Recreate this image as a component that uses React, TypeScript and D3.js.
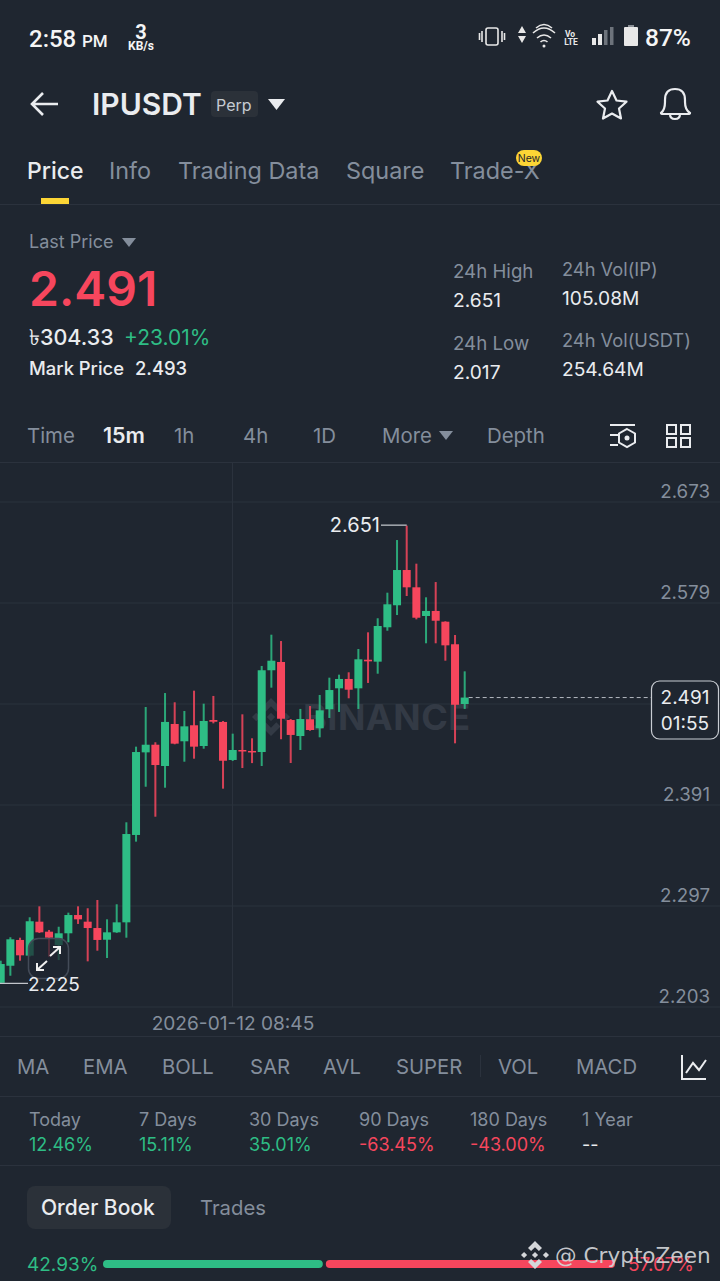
import React from 'react';
import * as d3 from 'd3';

// 15m candles
const opens = [2.2255,2.2414,2.2654,2.2508,2.2824,2.2731,2.2607,2.2716,2.2886,2.2824,2.2765,2.2656,2.2725,2.2818,2.3631,2.44,2.4471,2.4273,2.4664,2.4503,2.4652,2.4459,2.4701,2.4683,2.4329,2.4422,2.4413,2.4403,2.5164,2.5241,2.4701,2.4552,2.4708,2.4624,2.4801,2.4996,2.5083,2.4996,2.5262,2.5244,2.5564,2.5769,2.6097,2.5936,2.5669,2.5716,2.5616,2.5406,2.485];
const closes = [2.243,2.266,2.2511,2.2828,2.2725,2.2675,2.2716,2.2886,2.2846,2.2765,2.2654,2.2725,2.2818,2.364,2.4403,2.4471,2.4282,2.4683,2.4481,2.4642,2.4453,2.4692,2.4685,2.4322,2.4422,2.4408,2.4399,2.5164,2.5253,2.4713,2.4562,2.471,2.4608,2.4791,2.498,2.5083,2.4983,2.5266,2.5247,2.5576,2.5778,2.6097,2.5936,2.5653,2.5716,2.5625,2.5396,2.4843,2.491];
const highs = [2.2461,2.2679,2.2675,2.2865,2.2967,2.2747,2.2777,2.2908,2.2967,2.2949,2.3026,2.2846,2.2986,2.3749,2.4453,2.4822,2.4494,2.4952,2.4866,2.4785,2.4974,2.4853,2.4925,2.4692,2.4574,2.4754,2.4531,2.5204,2.5495,2.5436,2.471,2.4804,2.4831,2.4934,2.5095,2.5123,2.5145,2.5362,2.5517,2.5648,2.5886,2.6376,2.651,2.6156,2.5843,2.5985,2.562,2.5492,2.5154];
const lows = [2.225,2.2321,2.2461,2.25,2.2719,2.2498,2.2467,2.2632,2.2803,2.2455,2.2554,2.2486,2.272,2.2675,2.3569,2.408,2.3801,2.4071,2.4475,2.4313,2.4341,2.4434,2.467,2.4062,2.432,2.4254,2.43,2.4273,2.5002,2.4522,2.4301,2.4422,2.4601,2.454,2.472,2.4776,2.4903,2.4804,2.5046,2.5132,2.5532,2.5678,2.5855,2.5638,2.5415,2.5415,2.5253,2.4484,2.4804];

const priceTicks = [2.673, 2.579, 2.485, 2.391, 2.297, 2.203];
const tabs = [['Price', 27], ['Info', 109], ['Trading Data', 178], ['Square', 346], ['Trade-X', 450]] as const;
const intervals = [['Time', 27], ['15m', 103], ['1h', 174], ['4h', 243], ['1D', 313], ['More', 382], ['Depth', 487]] as const;
const indicators = [['MA', 17], ['EMA', 83], ['BOLL', 162], ['SAR', 250], ['AVL', 323], ['SUPER', 396], ['VOL', 498], ['MACD', 576]] as const;
const periods = [['Today', '12.46%', 29], ['7 Days', '15.11%', 139], ['30 Days', '35.01%', 249], ['90 Days', '-63.45%', 359], ['180 Days', '-43.00%', 470], ['1 Year', '--', 582]] as const;
const buyShare = 42.93;
const sellShare = 57.07;

const BG = '#1f2630';
const GRID = '#2b323d';
const GREEN = '#2ebd85';
const RED = '#f6465d';
const TEXT = '#eaecef';
const MUTED = '#848e9c';
const FONT = 'Inter, "Noto Sans", sans-serif';

const y = d3.scaleLinear().domain([2.673, 2.203]).range([502, 1007]);
const x = d3.scaleLinear().domain([0, 48]).range([0.7, 464.7]);
const bar = d3.scaleLinear().domain([0, buyShare + sellShare]).range([103, 615]);

const T = ({ x, y, s = 18, c = TEXT, w = 400, a = 'start', f = FONT, children }: any) => (
  <text x={x} y={y} fontSize={s} fill={c} fontWeight={w} textAnchor={a} fontFamily={f}>{children}</text>
);

const Diamond = ({ cx, cy, r, fill }: any) => (
  <g fill={fill} transform={`translate(${cx},${cy})`}>
    <path d={`M0 ${-r}L${r * 0.5} ${-r * 0.5}L${r * 0.28} ${-r * 0.28}L0 ${-r * 0.56}L${-r * 0.28} ${-r * 0.28}L${-r * 0.5} ${-r * 0.5}Z`} />
    <path d={`M0 ${r}L${r * 0.5} ${r * 0.5}L${r * 0.28} ${r * 0.28}L0 ${r * 0.56}L${-r * 0.28} ${r * 0.28}L${-r * 0.5} ${r * 0.5}Z`} />
    <path d={`M0 ${-r * 0.22}L${r * 0.22} 0L0 ${r * 0.22}L${-r * 0.22} 0Z`} />
    <path d={`M${-r} 0L${-r * 0.78} ${-r * 0.22}L${-r * 0.56} 0L${-r * 0.78} ${r * 0.22}Z`} />
    <path d={`M${r} 0L${r * 0.78} ${-r * 0.22}L${r * 0.56} 0L${r * 0.78} ${r * 0.22}Z`} />
  </g>
);

export default function App() {
  const ROBOTO = 'Roboto, sans-serif';
  return (
    <>
      <style>{'body{margin:0;background:' + BG + '}'}</style>
      <svg width={720} height={1281} style={{ display: 'block' }}>
        <rect width={720} height={1281} fill={BG} />

        {/* status bar */}
        <T x={29} y={47} s={24} w={500} f={ROBOTO} c="#f5f5f5">2:58</T>
        <T x={82} y={47} s={17} w={500} f={ROBOTO} c="#f5f5f5">PM</T>
        <T x={141} y={39} s={20} w={700} a="middle" f={ROBOTO} c="#f5f5f5">3</T>
        <T x={141} y={50} s={12} w={700} a="middle" f={ROBOTO} c="#f5f5f5">KB/s</T>
        <g fill="none" stroke="#e8e8e8" strokeWidth={1.6}>
          <rect x={486} y={28} width={12} height={17} rx={2} />
          <path d="M482 31v11M502 31v11M479.5 33v7M504.5 33v7" />
          <path d="M533 41q11 -10 22 0M536 36q8 -7 16 0" transform="translate(0,-8)" />
          <path d="M537 38q7 -6 14 0M540.500 42q3.500 -3 7 0" />
        </g>
        <circle cx={544} cy={46} r={1.5} fill="#e8e8e8" />
        <path d="M522 26l4 7h-8ZM522 43l4 -7h-8Z" fill="#e8e8e8" />
        <T x={570} y={37} s={8.5} w={700} a="middle" f={ROBOTO} c="#e8e8e8">Vo</T>
        <T x={571} y={45} s={8.5} w={700} a="middle" f={ROBOTO} c="#e8e8e8">LTE</T>
        <g fill="#e8e8e8">
          <rect x={592} y={38} width={4} height={7} />
          <rect x={598} y={34} width={4} height={11} />
          <rect x={604} y={30} width={3.500} height={15} fill="#6d737b" />
          <rect x={610} y={27} width={3.500} height={18} fill="#6d737b" />
          <rect x={624} y={27} width={14} height={19} rx={1} />
          <rect x={628} y={25} width={6} height={2} fill="#8a8f96" />
        </g>
        <T x={645} y={46} s={24.500} w={500} f={ROBOTO} c="#f5f5f5">87%</T>

        {/* title row */}
        <path d="M58 104H33M43 93L32 104L43 115" fill="none" stroke={TEXT} strokeWidth={2.6} />
        <T x={92} y={115} s={30} w={600} c={TEXT}>IPUSDT</T>
        <rect x={211} y={91} width={47} height={26} rx={4} fill="#2b3139" />
        <T x={216} y={111} s={16} c="#c6cbd2">Perp</T>
        <path d="M268 99H285L276.500 110Z" fill={TEXT} />
        <path d="M612 91L616.500 100.500L626.500 101.700L619 108.500L621 118.500L612 113.500L603 118.500L605 108.500L597.500 101.700L607.500 100.500Z" fill="none" stroke={TEXT} strokeWidth={2.2} strokeLinejoin="round" />
        <path d="M661 113Q665 110 665 102V100Q665 89 675 89Q685 89 685 100V102Q685 110 690 113Q690 114 688 114H663Q661 114 661 113ZM670 114Q670 119 675 119Q680 119 680 114" fill="none" stroke={TEXT} strokeWidth={2.2} />

        {/* tabs */}
        {tabs.map(([label, tx], i) => (
          <T key={label} x={tx} y={179} s={i === 0 ? 23 : 23.400} w={i === 0 ? 500 : 400} c={i === 0 ? TEXT : MUTED}>{label}</T>
        ))}
        <rect x={516} y={150} width={26} height={16} rx={8} fill="#fcd535" />
        <T x={529} y={162} s={10.500} a="middle" c="#1e2329">New</T>
        <rect x={41} y={198} width={28} height={6} fill="#fcd535" />
        <line x1={0} x2={720} y1={204.500} y2={204.500} stroke={GRID} />

        {/* price summary */}
        <T x={29} y={248} s={18} c={MUTED}>Last Price</T>
        <path d="M122 238H136L129 247Z" fill={MUTED} />
        <T x={29} y={306} s={48} w={600} c={RED}>2.491</T>
        <T x={29} y={345} s={21.500} w={500}>৳304.33</T>
        <T x={124} y={345} s={21} c={GREEN}>+23.01%</T>
        <T x={29} y={375} s={18.400} w={500}>Mark Price</T>
        <T x={135} y={375} s={18.400} w={500}>2.493</T>
        <T x={453} y={278} s={18.700} c={MUTED}>24h High</T>
        <T x={453} y={307} s={19.200}>2.651</T>
        <T x={453} y={350} s={18.700} c={MUTED}>24h Low</T>
        <T x={453} y={379} s={19.200}>2.017</T>
        <T x={562} y={276} s={18.300} c={MUTED}>24h Vol(IP)</T>
        <T x={562} y={305} s={19.200}>105.08M</T>
        <T x={562} y={347} s={18.300} c={MUTED}>24h Vol(USDT)</T>
        <T x={562} y={376} s={19.200}>254.64M</T>

        {/* interval row */}
        {intervals.map(([label, tx]) => (
          <T key={label} x={tx} y={443} s={label === '15m' ? 21.500 : 20.400} w={label === '15m' ? 600 : 400} c={label === '15m' ? TEXT : MUTED}>{label}</T>
        ))}
        <path d="M439 431H453L446 440Z" fill={MUTED} />
        <g fill="none" stroke={TEXT} strokeWidth={2}>
          <path d="M610 425H635M610 435H618M610 445H618" />
          <path d="M627 429L635 433.500V442.500L627 447L619 442.500V433.500Z" />
          <rect x={667} y={425} width={9} height={9} />
          <rect x={681} y={425} width={9} height={9} />
          <rect x={667} y={438} width={9} height={9} />
          <rect x={681} y={438} width={9} height={9} />
        </g>
        <circle cx={627} cy={438} r={2.500} fill={TEXT} />

        {/* chart grid */}
        <line x1={0} x2={720} y1={462.500} y2={462.500} stroke={GRID} />
        <line x1={232.500} x2={232.500} y1={463} y2={1007} stroke={GRID} />
        {priceTicks.map(t => (
          <line key={t} x1={0} x2={720} y1={y(t)} y2={y(t)} stroke={GRID} />
        ))}
        {priceTicks.filter(t => t !== 2.485).map(t => (
          <T key={t} x={710} y={y(t) - 4.500} s={18.700} a="end" c={MUTED}>{d3.format('.3f')(t)}</T>
        ))}

        {/* watermark */}
        <Diamond cx={271} cy={717} r={19} fill="#333a45" />
        <text x={303} y={730} fontSize={36} fontWeight={700} fontFamily={FONT} fill="#333a45" letterSpacing={0.500}>BINANCE</text>

        {/* candles */}
        {opens.map((o, i) => {
          const c = closes[i];
          const color = c >= o ? GREEN : RED;
          const top = y(Math.max(o, c));
          const h = Math.max(1.5, y(Math.min(o, c)) - top);
          return (
            <g key={i} fill={color}>
              <rect x={x(i) - 1} y={y(highs[i])} width={2} height={y(lows[i]) - y(highs[i])} opacity={0.85} />
              <rect x={x(i) - 4} y={top} width={8} height={h} />
            </g>
          );
        })}

        {/* high / low markers */}
        <T x={380} y={532} s={20} a="end">2.651</T>
        <line x1={381} x2={x(42)} y1={y(2.651) - 0.500} y2={y(2.651) - 0.500} stroke="#c9cdd2" strokeWidth={1.2} />
        <line x1={0} x2={28} y1={y(2.225)} y2={y(2.225)} stroke="#c9cdd2" strokeWidth={1.2} />

        {/* last price */}
        <line x1={x(48) + 4} x2={651} y1={y(2.491)} y2={y(2.491)} stroke="#b4b9c0" strokeWidth={1} strokeDasharray="4 3" />
        <rect x={651.500} y={681} width={67} height={58} rx={8} fill={BG} stroke="#c8ccd2" strokeWidth={1.2} />
        <T x={685} y={704} s={19} a="middle">2.491</T>
        <T x={685} y={730} s={19} a="middle">01:55</T>

        {/* expand button */}
        <rect x={28.500} y={938.500} width={40} height={40} rx={10} fill={BG} fillOpacity={0.72} stroke="#434b58" strokeWidth={1.5} />
        <path d="M50 956L60 947M53 947H60V954M47 961L37 970M37 963V970H44" fill="none" stroke="#f0f0f0" strokeWidth={2} />
        <T x={28} y={991} s={19}>2.225</T>

        <T x={233} y={1030} s={19.100} a="middle" c={MUTED}>2026-01-12 08:45</T>
        <line x1={0} x2={720} y1={1036.500} y2={1036.500} stroke={GRID} />

        {/* indicators */}
        {indicators.map(([label, tx]) => (
          <T key={label} x={tx} y={1074} s={20.300} c={MUTED}>{label}</T>
        ))}
        <line x1={480.500} x2={480.500} y1={1055} y2={1077} stroke={GRID} />
        <path d="M682 1055V1079H706M686 1073L693 1063L699 1070L706 1060" fill="none" stroke={TEXT} strokeWidth={2} />
        <line x1={0} x2={720} y1={1096.500} y2={1096.500} stroke={GRID} />

        {/* period returns */}
        {periods.map(([label, value, tx]) => (
          <g key={label}>
            <T x={tx} y={1126} s={18} c={MUTED}>{label}</T>
            <T x={tx} y={1151} s={18} c={value === '--' ? TEXT : value.startsWith('-') ? RED : GREEN}>{value}</T>
          </g>
        ))}
        <line x1={0} x2={720} y1={1165.500} y2={1165.500} stroke={GRID} />

        {/* order book */}
        <rect x={27} y={1186} width={144} height={43} rx={8} fill="#2b3139" />
        <T x={41} y={1215} s={21} w={500}>Order Book</T>
        <T x={200} y={1215} s={20.300} c={MUTED}>Trades</T>
        <T x={27} y={1271} s={19} c={GREEN}>{buyShare}%</T>
        <rect x={bar(0)} y={1260} width={bar(buyShare) - bar(0)} height={8} rx={4} fill={GREEN} />
        <rect x={bar(buyShare) + 3} y={1260} width={bar(100) - bar(buyShare) - 3} height={8} rx={4} fill={RED} />
        <T x={694} y={1271} s={19} a="end" c={RED}>{sellShare}%</T>

        {/* uploader watermark */}
        <Diamond cx={535} cy={1255} r={14} fill="#d4d6d9" />
        <text x={555} y={1263} fontSize={21.600} fontFamily='"DejaVu Sans", sans-serif' fill="#d4d6d9" fillOpacity={0.92}>@ CryptoZeen</text>
      </svg>
    </>
  );
}
